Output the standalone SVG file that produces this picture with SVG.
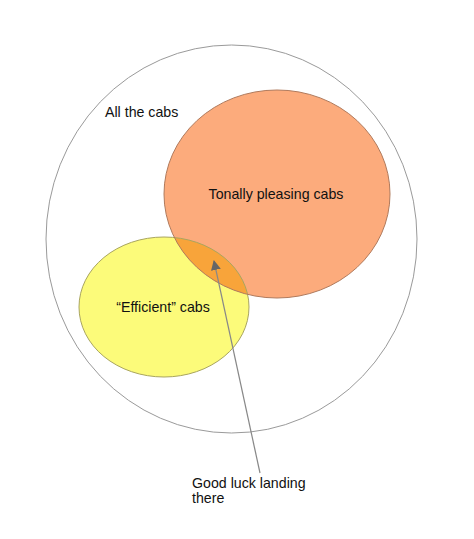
<svg xmlns="http://www.w3.org/2000/svg" width="474" height="539" viewBox="0 0 474 539">
<style>
.lbl{font-family:"Liberation Sans",Arial,sans-serif;font-size:14.2px;fill:#111}
.ol{fill:none;stroke-width:1}
</style>
<defs>
<clipPath id="clipOrange"><ellipse cx="277" cy="194" rx="113" ry="104"/></clipPath>
<marker id="ah" viewBox="0 0 10 10" refX="9" refY="5" markerWidth="10" markerHeight="10" markerUnits="userSpaceOnUse" orient="auto">
<path d="M0,0 L10,5 L0,10 Z" fill="#666"/>
</marker>
</defs>
<rect width="474" height="539" fill="#fff"/>
<g id="all-cabs">
<ellipse cx="231.5" cy="239" rx="185.5" ry="194" fill="#fff" stroke="#9a9a9a" stroke-width="1"/>
<text class="lbl" x="105" y="117">All the cabs</text>
</g>
<g id="efficient-cabs">
<ellipse cx="164" cy="307" rx="85" ry="70" fill="#fcfb7a"/>
</g>
<g id="tonally-pleasing-cabs">
<ellipse cx="277" cy="194" rx="113" ry="104" fill="#fcab7c"/>
</g>
<g id="overlap">
<ellipse cx="164" cy="307" rx="85" ry="70" fill="#f8a43a" clip-path="url(#clipOrange)"/>
</g>
<g id="outlines">
<ellipse class="ol" cx="164" cy="307" rx="85" ry="70" stroke="#a9a560"/>
<ellipse class="ol" cx="277" cy="194" rx="113" ry="104" stroke="#b07a5c"/>
</g>
<g id="labels">
<text class="lbl" x="276" y="199" text-anchor="middle">Tonally pleasing cabs</text>
<text class="lbl" x="163" y="312" text-anchor="middle">“Efficient” cabs</text>
</g>
<g id="connectors">
<line x1="260" y1="473" x2="214" y2="261" stroke="#888" stroke-width="1.2" marker-end="url(#ah)"/>
</g>
<g id="note">
<text class="lbl" x="192" y="488">Good luck landing</text>
<text class="lbl" x="192" y="503">there</text>
</g>
</svg>
